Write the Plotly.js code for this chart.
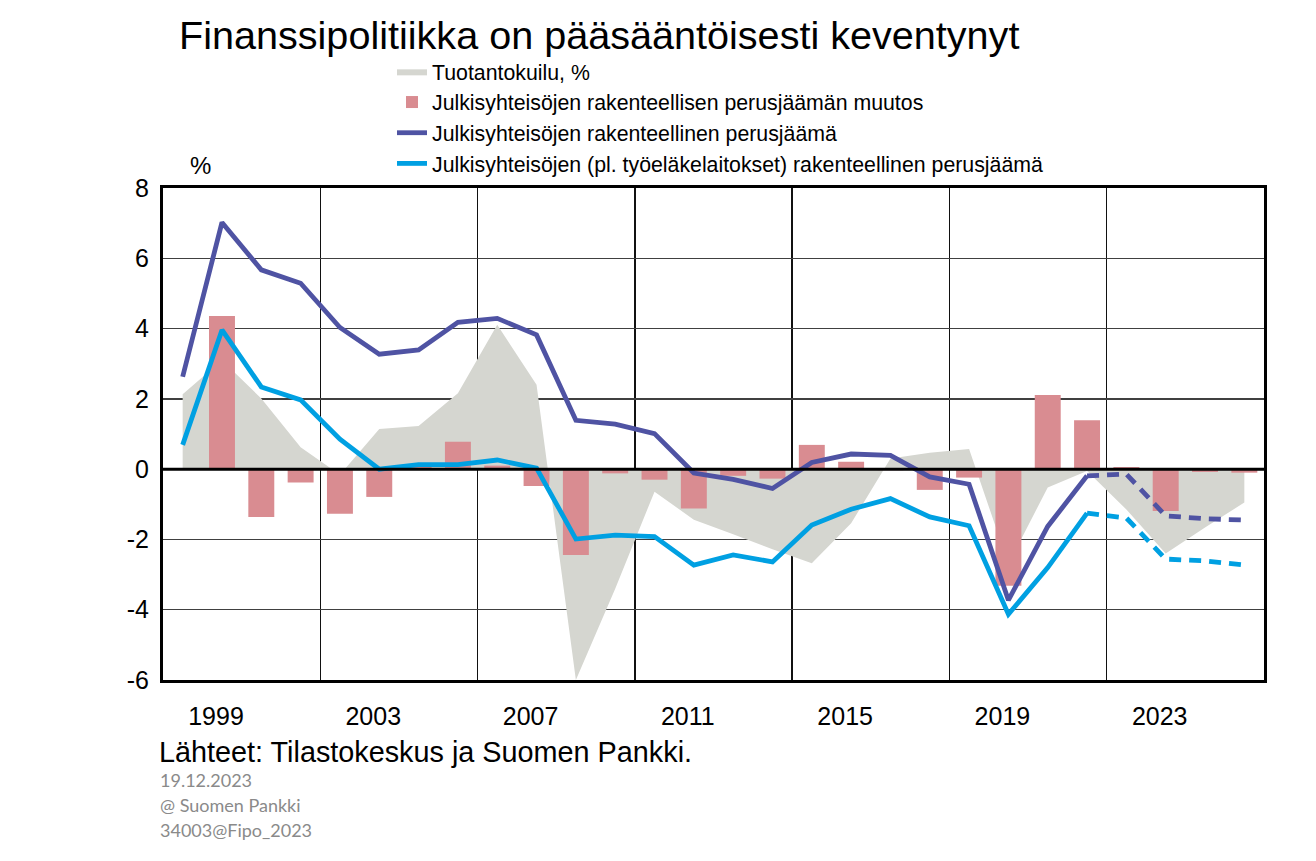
<!DOCTYPE html>
<html>
<head>
<meta charset="utf-8">
<script src="https://cdn.plot.ly/plotly-3.0.1.min.js"></script>
<style>html,body{margin:0;padding:0;background:#fff;}#chart{width:1316px;height:861px;}</style>
</head>
<body>
<div id="chart"></div>
<script>
// ---- Data ----
const years = [1998,1999,2000,2001,2002,2003,2004,2005,2006,2007,2008,2009,2010,2011,2012,2013,2014,2015,2016,2017,2018,2019,2020,2021,2022,2023,2024,2025];
const outputGap = [2.13,3.1,2.01,0.62,-0.16,1.14,1.23,2.16,4.11,2.40,-6.0,-3.4,-0.64,-1.44,-1.85,-2.28,-2.68,-1.54,0.3,0.47,0.57,-2.7,-0.52,-0.05,-1.15,-2.40,-1.66,-0.95];
const balanceChange = [null,4.36,-1.36,-0.38,-1.27,-0.79,0.1,0.78,0.1,-0.48,-2.44,-0.12,-0.30,-1.12,-0.19,-0.27,0.69,0.21,-0.03,-0.59,-0.24,-3.32,2.11,1.39,0.06,-1.19,-0.08,-0.10];
const structBalance = [2.63,7.02,5.67,5.29,4.03,3.27,3.39,4.18,4.29,3.82,1.39,1.28,1.01,-0.11,-0.29,-0.55,0.19,0.43,0.39,-0.22,-0.43,-3.73,-1.63,-0.19,-0.14,-1.33,-1.41,-1.45];
const structBalanceExPension = [0.69,3.96,2.34,1.97,0.85,0.0,0.13,0.13,0.26,0.03,-1.99,-1.88,-1.92,-2.73,-2.44,-2.64,-1.59,-1.14,-0.84,-1.36,-1.61,-4.13,-2.80,-1.25,-1.39,-2.56,-2.61,-2.73];
const lastActualYear = 2021;
const tickYears = [1999,2003,2007,2011,2015,2019,2023];
const yTickVals = [-6,-4,-2,0,2,4,6,8];
const yTickText = ['-6','-4','-2','0','2','4','6','8'];
const names = [
  'Tuotantokuilu, %',
  'Julkisyhteisöjen rakenteellisen perusjäämän muutos',
  'Julkisyhteisöjen rakenteellinen perusjäämä',
  'Julkisyhteisöjen (pl. työeläkelaitokset) rakenteellinen perusjäämä'
];

const actual = arr => arr.map((v,i) => years[i] <= lastActualYear ? v : null);
const forecast = arr => arr.map((v,i) => years[i] >= lastActualYear ? v : null);

const C_GAP = '#d5d6d0', C_BAR = '#d98c91', C_DARK = '#4f53a3', C_LIGHT = '#00a0e2';

const traces = [
  {x: years, y: outputGap, name: names[0], type: 'scatter', mode: 'lines', fill: 'tozeroy',
   fillcolor: C_GAP, line: {width: 0, color: C_GAP}, legendgroup: 'g0', xaxis: 'x', yaxis: 'y'},
  {x: years, y: balanceChange, name: names[1], type: 'bar', marker: {color: C_BAR},
   legendgroup: 'g1', xaxis: 'x', yaxis: 'y2'},
  {x: years, y: actual(structBalance), name: names[2], type: 'scatter', mode: 'lines',
   line: {color: C_DARK, width: 4.8}, legendgroup: 'g2', xaxis: 'x', yaxis: 'y2'},
  {x: years, y: forecast(structBalance), name: names[2], type: 'scatter', mode: 'lines',
   line: {color: C_DARK, width: 4.8, dash: '12px,8px'}, legendgroup: 'g2', showlegend: false, xaxis: 'x', yaxis: 'y2'},
  {x: years, y: actual(structBalanceExPension), name: names[3], type: 'scatter', mode: 'lines',
   line: {color: C_LIGHT, width: 4.8}, legendgroup: 'g3', xaxis: 'x', yaxis: 'y2'},
  {x: years, y: forecast(structBalanceExPension), name: names[3], type: 'scatter', mode: 'lines',
   line: {color: C_LIGHT, width: 4.8, dash: '12px,8px'}, legendgroup: 'g3', showlegend: false, xaxis: 'x', yaxis: 'y2'}
];

const FONT = 'Liberation Sans, Arial, sans-serif';
const SMALL = 'Lato, Open Sans, sans-serif';
const layout = {
  width: 1316, height: 861,
  margin: {l: 163, r: 52, t: 188, b: 181},
  paper_bgcolor: '#fff', plot_bgcolor: '#fff',
  font: {family: FONT, color: '#000'},
  showlegend: true,
  bargap: 0.34,
  title: {text: 'Finanssipolitiikka on pääsääntöisesti keventynyt', font: {family: FONT, size: 39.6, color: '#000'},
          x: 179/1316, xanchor: 'left', xref: 'container', y: 1 - 35/861, yanchor: 'middle', yref: 'container'},
  legend: {x: (392-163)/1101, xanchor: 'left', y: 1 + (188-51)/492, yanchor: 'top',
           font: {family: FONT, size: 21.3, color: '#000'}, bgcolor: 'rgba(0,0,0,0)',
           traceorder: 'normal', tracegroupgap: 0, itemwidth: 30},
  xaxis: {type: 'linear', range: [1997.5, 2025.5], tickmode: 'array', tickvals: tickYears,
          ticktext: tickYears.map(String), ticks: 'outside', ticklen: 12, tickcolor: 'rgba(0,0,0,0)',
          showgrid: false, zeroline: false,
          tickfont: {family: FONT, size: 25, color: '#000'}, ticklabelshift: -6,
          showline: true, linecolor: '#000', linewidth: 3, mirror: true,
          minor: {tickmode: 'linear', tick0: 2001.5, dtick: 4, showgrid: true, gridcolor: '#111', gridwidth: 1.5, ticks: ''}},
  yaxis: {range: [-6, 8], tickmode: 'array', tickvals: yTickVals, ticktext: yTickText,
          ticks: 'outside', ticklen: 6, tickcolor: 'rgba(0,0,0,0)', showgrid: true, gridcolor: '#404040', gridwidth: 1.5,
          zeroline: false, tickfont: {family: FONT, size: 25, color: '#000'},
          showline: true, linecolor: '#000', linewidth: 3, mirror: true},
  yaxis2: {range: [-6, 8], overlaying: 'y', side: 'left', showgrid: false, zeroline: false,
           showticklabels: false, ticks: '', showline: false},
  shapes: [
    {type: 'line', xref: 'paper', yref: 'y', x0: 0, x1: 1, y0: 0, y1: 0, layer: 'above',
     line: {color: '#000', width: 3}}
  ],
  annotations: [
    {text: '%', xref: 'paper', yref: 'paper', x: (200-163)/1101, y: 1 + (188-165)/492,
     xanchor: 'center', yanchor: 'middle', showarrow: false, font: {family: FONT, size: 24, color: '#000'}},
    {text: 'Lähteet: Tilastokeskus ja Suomen Pankki.', xref: 'paper', yref: 'paper',
     x: (157-163)/1101, y: -(752-680)/492, xanchor: 'left', yanchor: 'middle', showarrow: false,
     font: {family: FONT, size: 28.8, color: '#000'}},
    {text: '19.12.2023', xref: 'paper', yref: 'paper', x: (158-163)/1101, y: -(780-680)/492,
     xanchor: 'left', yanchor: 'middle', showarrow: false, font: {family: SMALL, size: 18, color: '#8a8a8a'}},
    {text: '@ Suomen Pankki', xref: 'paper', yref: 'paper', x: (158-163)/1101, y: -(805-680)/492,
     xanchor: 'left', yanchor: 'middle', showarrow: false, font: {family: SMALL, size: 18, color: '#8a8a8a'}},
    {text: '34003@Fipo_2023', xref: 'paper', yref: 'paper', x: (158-163)/1101, y: -(830-680)/492,
     xanchor: 'left', yanchor: 'middle', showarrow: false, font: {family: SMALL, size: 18, color: '#8a8a8a'}}
  ]
};

Plotly.newPlot('chart', traces, layout, {displayModeBar: false, staticPlot: true});
</script>
</body>
</html>
